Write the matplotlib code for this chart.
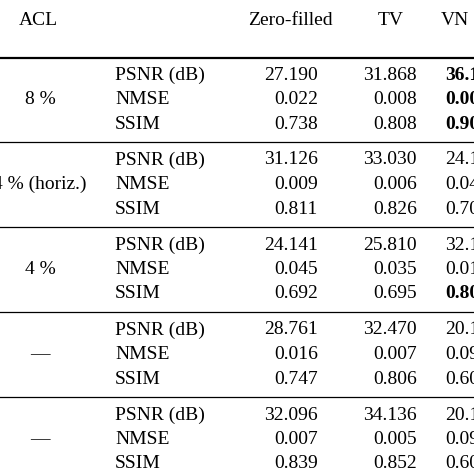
import matplotlib
matplotlib.use("Agg")
import matplotlib.pyplot as plt

acl = ["8 %", "4 % (horiz.)", "4 %", "—", "—"]
metrics = ["PSNR (dB)", "NMSE", "SSIM"]
headers = ["ACL", "Zero-filled", "TV", "VN"]
zero_filled = [[27.190, 0.022, 0.738], [31.126, 0.009, 0.811], [24.141, 0.045, 0.692],
               [28.761, 0.016, 0.747], [32.096, 0.007, 0.839]]
tv = [[31.868, 0.008, 0.808], [33.030, 0.006, 0.826], [25.810, 0.035, 0.695],
      [32.470, 0.007, 0.806], [34.136, 0.005, 0.852]]
vn = [[36.1, 0.003, 0.901], [24.1, 0.040, 0.701], [32.1, 0.010, 0.801],
      [20.1, 0.090, 0.601], [20.1, 0.090, 0.601]]
vn_bold = [[True, True, True], [False, False, False], [False, False, True],
           [False, False, False], [False, False, False]]

W = H = 474
fig = plt.figure(figsize=(4.74, 4.74), dpi=100)
ax = fig.add_axes([0, 0, 1, 1])
ax.set_xlim(0, W); ax.set_ylim(H, 0); ax.axis("off")
fam = ["Liberation Serif", "DejaVu Serif"]
fs = 14

ax.text(38, 20, headers[0], ha="center", va="center", fontsize=fs, family=fam)
ax.text(290, 20, headers[1], ha="center", va="center", fontsize=fs, family=fam)
ax.text(391, 20, headers[2], ha="center", va="center", fontsize=fs, family=fam)
ax.text(441, 20, headers[3], ha="left", va="center", fontsize=fs, family=fam)
ax.plot([0, W], [57.5, 57.5], color="black", lw=1.6)

starts = [75, 160, 245, 330, 415]
step = 24.5
fmt = ["{:.3f}", "{:.3f}", "{:.3f}"]
for g in range(5):
    y0 = starts[g]
    ax.text(40, y0 + step, acl[g], ha="center", va="center", fontsize=fs, family=fam)
    for i in range(3):
        y = y0 + i * step
        ax.text(115, y, metrics[i], ha="left", va="center", fontsize=fs, family=fam)
        ax.text(318, y, fmt[i].format(zero_filled[g][i]), ha="right", va="center", fontsize=fs, family=fam)
        ax.text(417, y, fmt[i].format(tv[g][i]), ha="right", va="center", fontsize=fs, family=fam)
        ax.text(445, y, fmt[i].format(vn[g][i]), ha="left", va="center", fontsize=fs, family=fam,
                fontweight="bold" if vn_bold[g][i] else "normal")
    if g < 4:
        ys = y0 + 2 * step + 17.5
        ax.plot([0, W], [ys, ys], color="black", lw=0.9)

fig.savefig("out.png", dpi=100, facecolor="white")
